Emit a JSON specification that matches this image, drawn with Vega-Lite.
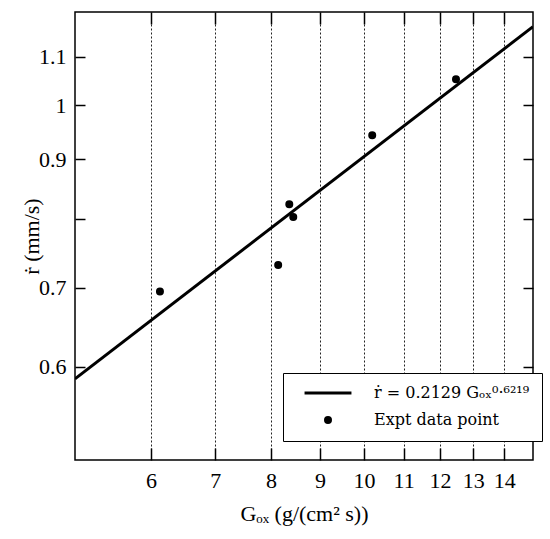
{
  "$schema": "https://vega.github.io/schema/vega-lite/v6.json",
  "width": 458,
  "height": 448,
  "autosize": {"type": "none"},
  "padding": {"left": 75, "top": 12, "right": 17, "bottom": 79},
  "config": {
    "font": "Liberation Serif",
    "view": {"stroke": "black", "strokeWidth": 1.5},
    "axis": {
      "domain": false,
      "tickColor": "black",
      "tickWidth": 1.5,
      "labelColor": "black",
      "labelFont": "Liberation Serif",
      "labelFontSize": 22,
      "titleFont": "Liberation Serif",
      "titleFontSize": 22,
      "titleFontWeight": "normal",
      "titleColor": "black"
    }
  },
  "datasets": {
    "fit": [
      {"gox": 5, "rdot": 0.586},
      {"gox": 15, "rdot": 1.166}
    ],
    "expt": [
      {"gox": 6.13, "rdot": 0.695, "series": "Expt data point"},
      {"gox": 8.14, "rdot": 0.732, "series": "Expt data point"},
      {"gox": 8.36, "rdot": 0.824, "series": "Expt data point"},
      {"gox": 8.44, "rdot": 0.804, "series": "Expt data point"},
      {"gox": 10.2, "rdot": 0.943, "series": "Expt data point"},
      {"gox": 12.47, "rdot": 1.052, "series": "Expt data point"}
    ]
  },
  "layer": [
    {
      "data": {"name": "fit"},
      "mark": {"type": "line", "color": "black", "strokeWidth": 3, "clip": true},
      "encoding": {
        "x": {
          "field": "gox",
          "type": "quantitative",
          "scale": {"type": "log", "domain": [5, 15], "nice": false},
          "axis": {"orient": "top", "values": [6, 7, 8, 9, 10, 11, 12, 13, 14], "labels": false, "title": null, "offset": -12, "tickSize": 12, "grid": false}
        },
        "y": {
          "field": "rdot",
          "type": "quantitative",
          "scale": {"type": "log", "domain": [0.5, 1.2], "nice": false},
          "axis": {"orient": "right", "values": [0.6, 0.7, 0.8, 0.9, 1, 1.1], "labels": false, "title": null, "offset": -10, "tickSize": 10, "grid": false}
        }
      }
    },
    {
      "data": {"name": "expt"},
      "mark": {"type": "point", "filled": true, "color": "black", "stroke": "black", "strokeWidth": 3, "opacity": 1},
      "encoding": {
        "x": {
          "field": "gox",
          "type": "quantitative",
          "scale": {"type": "log", "domain": [5, 15], "nice": false},
          "axis": {
            "orient": "bottom",
            "values": [6, 7, 8, 9, 10, 11, 12, 13, 14],
            "format": "~g",
            "title": "Gₒₓ (g/(cm² s))",
            "offset": -12,
            "tickSize": 12,
            "labelPadding": 10,
            "titlePadding": 12,
            "grid": true,
            "gridColor": "#222",
            "gridDash": [2, 2],
            "gridWidth": 1
          }
        },
        "y": {
          "field": "rdot",
          "type": "quantitative",
          "scale": {"type": "log", "domain": [0.5, 1.2], "nice": false},
          "axis": {
            "orient": "left",
            "values": [0.6, 0.7, 0.8, 0.9, 1, 1.1],
            "format": "~g",
            "labelExpr": "datum.value == 0.8 ? '' : datum.label",
            "title": "ṙ (mm/s)",
            "offset": -10,
            "tickSize": 10,
            "labelPadding": 9,
            "titlePadding": -5,
            "grid": false
          }
        },
        "shape": {
          "field": "series",
          "type": "nominal",
          "scale": {
            "domain": ["ṙ = 0.2129 Gₒₓ⁰·⁶²¹⁹", "Expt data point"],
            "range": ["M-5,0H5", "circle"]
          },
          "legend": {
            "title": null,
            "orient": "none",
            "legendX": 208,
            "legendY": 361,
            "padding": 12,
            "strokeColor": "black",
            "fillColor": "white",
            "symbolStrokeColor": "black",
            "symbolFillColor": "black",
            "symbolStrokeWidth": 3,
            "symbolOffset": 25,
            "labelFont": "DejaVu Serif",
            "labelFontSize": 16,
            "labelColor": "black",
            "labelOffset": 38,
            "rowPadding": 10,
            "labelLimit": 300
          }
        },
        "size": {
          "field": "series",
          "type": "ordinal",
          "scale": {
            "domain": ["ṙ = 0.2129 Gₒₓ⁰·⁶²¹⁹", "Expt data point"],
            "range": [88, 25]
          },
          "legend": {
            "title": null,
            "orient": "none",
            "legendX": 208,
            "legendY": 361
          }
        }
      }
    }
  ],
  "resolve": {"axis": {"x": "independent", "y": "independent"}}
}
